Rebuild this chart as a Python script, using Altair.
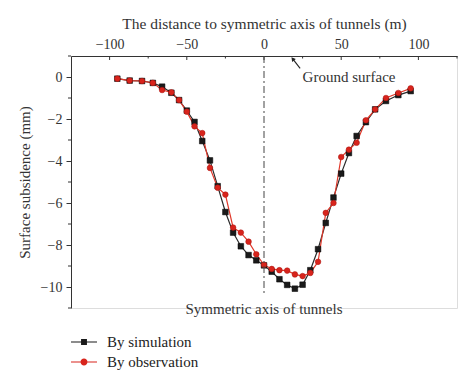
import altair as alt
import pandas as pd

# x positions (m)
xs = [-95, -87, -79, -72, -66, -60, -55, -50, -45, -40, -35, -30, -25, -20, -15, -10, -5, 0,
      5, 10, 15, 20, 25, 30, 35, 40, 45, 50, 55, 60, 66, 72, 79, 87, 95]
simulation = [-0.08, -0.17, -0.19, -0.28, -0.46, -0.75, -1.10, -1.60, -2.14, -3.05, -3.97, -5.20,
              -6.43, -7.41, -8.06, -8.48, -8.73, -8.97, -9.27, -9.63, -9.90, -10.08, -9.89, -9.20,
              -8.20, -6.95, -5.74, -4.60, -3.62, -2.81, -2.15, -1.54, -1.14, -0.86, -0.67]
observation = [-0.08, -0.17, -0.19, -0.28, -0.62, -0.73, -1.10, -1.65, -2.35, -2.67, -4.33, -5.27,
               -5.60, -7.17, -7.41, -7.84, -8.44, -8.94, -9.14, -9.20, -9.22, -9.40, -9.48, -9.33,
               -8.80, -6.47, -6.00, -3.81, -3.46, -3.13, -2.06, -1.54, -1.00, -0.76, -0.54]
series_names = ["By simulation", "By observation"]

x_major = [-100, -50, 0, 50, 100]
x_minor = [-75, -25, 25, 75, 125]
y_major = [-10, -8, -6, -4, -2, 0]
y_minor = [-11, -9, -7, -5, -3, -1, 1]

FONT = "Liberation Serif"
line_colors = ["#2a2a2a", "#e0382a"]
fill_colors = ["#1a1a1a", "#d8241c"]
edge_colors = ["#000000", "#a81410"]
legend_paths = [
    "M-1.5,-0.06H1.5V0.06H-1.5Z M-0.34,-0.34H0.34V0.34H-0.34Z",
    "M-1.5,-0.06H1.5V0.06H-1.5Z M0.4,0 A0.4,0.4 0 1,1 -0.4,0 A0.4,0.4 0 1,1 0.4,0Z",
]

rows = []
for name, vals in zip(series_names, [simulation, observation]):
    for x, y in zip(xs, vals):
        rows.append({"x": x, "y": y, "series": name})
df = pd.DataFrame(rows)

xscale = alt.Scale(domain=[-125, 125], nice=False, zero=False)
yscale = alt.Scale(domain=[-11, 1], nice=False, zero=False)

x_axis = alt.Axis(orient="top", values=x_major, ticks=False, tickSize=0, labelPadding=5,
                  title="The distance to symmetric axis of tunnels (m)", titlePadding=6,
                  labelFont=FONT, labelFontSize=14, titleFont=FONT, titleFontSize=15.5,
                  titleFontWeight="normal", labelColor="#333", titleColor="#333",
                  domainColor="#333", grid=False)
y_axis = alt.Axis(values=y_major, tickSize=5, labelPadding=4, tickColor="#333",
                  title="Surface subsidence (mm)", titlePadding=8,
                  labelFont=FONT, labelFontSize=14, titleFont=FONT, titleFontSize=15,
                  titleFontWeight="normal", labelColor="#333", titleColor="#333",
                  domainColor="#333", grid=False)


def X(field="x:Q"):
    return alt.X(field, scale=xscale, axis=x_axis)


def Y(field="y:Q"):
    return alt.Y(field, scale=yscale, axis=y_axis)


base = alt.Chart(df)

lines = base.mark_line(strokeWidth=1.2).encode(
    x=X(), y=Y(),
    color=alt.Color("series:N", scale=alt.Scale(domain=series_names, range=line_colors), legend=None),
    detail="series:N",
)

points = base.mark_point(filled=True, opacity=1, size=32, strokeWidth=0.5).encode(
    x=X(), y=Y(),
    fill=alt.Fill("series:N", scale=alt.Scale(domain=series_names, range=fill_colors), legend=None),
    stroke=alt.Stroke("series:N", scale=alt.Scale(domain=series_names, range=edge_colors), legend=None),
    shape=alt.Shape("series:N", scale=alt.Scale(domain=series_names, range=["square", "circle"]), legend=None),
)

legend_layer = base.transform_filter("false").mark_point(filled=True, opacity=1).encode(
    x=X(), y=Y(),
    color=alt.Color("series:N", scale=alt.Scale(domain=series_names, range=fill_colors),
                    legend=alt.Legend(title=None, orient="none", legendX=4, legendY=277,
                                      labelFont=FONT, labelFontSize=15, labelColor="#222",
                                      symbolSize=300, symbolStrokeWidth=0, labelOffset=14,
                                      rowPadding=3, padding=0)),
    shape=alt.Shape("series:N", scale=alt.Scale(domain=series_names, range=legend_paths)),
)

xt_major = alt.Chart(pd.DataFrame({"x": x_major})).mark_rule(color="#333", strokeWidth=1).encode(
    x=X(), y=alt.value(0), y2=alt.value(4))
xt_minor = alt.Chart(pd.DataFrame({"x": x_minor})).mark_rule(color="#333", strokeWidth=1).encode(
    x=X(), y=alt.value(0), y2=alt.value(2.5))
yt_minor = alt.Chart(pd.DataFrame({"y": y_minor})).mark_rule(color="#333", strokeWidth=1).encode(
    y=Y(), x=alt.value(-3), x2=alt.value(0))

sym_line = alt.Chart(pd.DataFrame({"x": [0]})).mark_rule(
    color="#444", strokeWidth=1, strokeDash=[7, 3, 2, 3]).encode(
    x=X(), y=alt.value(0), y2=alt.value(238))

labels_df = pd.DataFrame({"x": [25, 0], "y": [0.0, -11.05],
                          "t": ["Ground surface", "Symmetric axis of tunnels"]})
ground_text = alt.Chart(labels_df.iloc[[0]]).mark_text(
    align="left", baseline="middle", font=FONT, fontSize=15, color="#333").encode(
    x=X(), y=Y(), text="t:N")
sym_text = alt.Chart(labels_df.iloc[[1]]).mark_text(
    align="center", baseline="middle", font=FONT, fontSize=15, color="#333").encode(
    x=X(), y=Y(), text="t:N")

arrow_df = pd.DataFrame({"x": [18.6], "y": [0.86], "x2": [23.4], "y2": [0.41]})
arrow_line = alt.Chart(arrow_df).mark_rule(color="#222", strokeWidth=1.1).encode(
    x=X(), y=Y(), x2="x2:Q", y2="y2:Q")
arrow_head = alt.Chart(arrow_df).mark_point(
    shape="triangle-up", filled=True, opacity=1, size=22, angle=321, color="#222").encode(
    x=X(), y=Y())

chart = alt.layer(
    lines, points, legend_layer, xt_major, xt_minor, yt_minor, sym_line,
    ground_text, sym_text, arrow_line, arrow_head,
).resolve_scale(
    color="independent", shape="independent"
).properties(
    width=386, height=252,
    autosize=alt.AutoSizeParams(type="none"),
    padding={"left": 63, "top": 48, "right": 9, "bottom": 72},
).configure_view(stroke=None).configure(background="white")

chart.save("out.html", embed_options={"renderer": "svg", "actions": False})
